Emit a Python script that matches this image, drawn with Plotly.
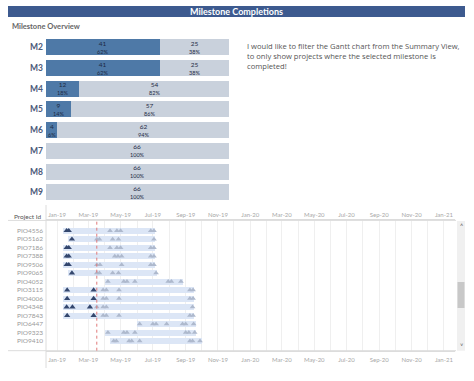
import plotly.graph_objects as go
import pandas as pd

# ---------------- data ----------------
milestones = ["M2", "M3", "M4", "M5", "M6", "M7", "M8", "M9"]
completed = [41, 41, 12, 9, 4, 0, 0, 0]
remaining = [25, 25, 54, 57, 62, 66, 66, 66]

projects = ["PIO4556", "PIO5162", "PIO7186", "PIO7388", "PIO9506", "PIO9065", "PIO4052",
            "PIO3115", "PIO4006", "PIO4348", "PIO7843", "PIO6447", "PIO9323", "PIO9410"]
starts = ["2019-01-12", "2019-01-22", "2019-01-12", "2019-01-12", "2019-01-12", "2019-01-22", "2019-04-01",
          "2019-01-12", "2019-01-12", "2019-01-12", "2019-01-12", "2019-06-01", "2019-04-02", "2019-04-11"]
ends = ["2019-07-05", "2019-07-05", "2019-07-05", "2019-07-05", "2019-07-05", "2019-07-09", "2019-08-26",
        "2019-09-17", "2019-09-17", "2019-09-16", "2019-09-17", "2019-09-20", "2019-09-20", "2019-10-01"]
done_dates = [
    ["2019-01-19", "2019-01-23"],
    ["2019-01-29"],
    ["2019-01-19", "2019-01-23"],
    ["2019-01-19", "2019-01-23"],
    ["2019-01-19", "2019-01-23"],
    ["2019-01-29"],
    [],
    ["2019-01-20", "2019-03-11"],
    ["2019-01-20", "2019-03-11"],
    ["2019-01-19", "2019-01-30", "2019-03-04"],
    ["2019-01-20", "2019-03-11"],
    [],
    [],
    [],
]
planned_dates = [
    ["2019-04-11", "2019-04-24", "2019-05-01", "2019-06-27", "2019-07-03"],
    ["2019-03-17", "2019-03-22", "2019-04-16", "2019-04-27", "2019-07-03"],
    ["2019-04-11", "2019-04-24", "2019-05-01", "2019-06-27", "2019-07-03"],
    ["2019-04-20", "2019-04-26", "2019-05-03", "2019-06-27", "2019-07-03"],
    ["2019-03-17", "2019-03-23", "2019-05-03", "2019-06-27", "2019-07-03"],
    ["2019-03-17", "2019-03-22", "2019-04-16", "2019-04-27", "2019-07-07"],
    ["2019-04-07", "2019-05-07", "2019-05-13", "2019-05-28", "2019-07-30", "2019-08-05", "2019-08-23"],
    ["2019-03-29", "2019-04-04", "2019-04-28", "2019-09-09", "2019-09-15"],
    ["2019-03-29", "2019-04-04", "2019-04-28", "2019-09-09", "2019-09-15"],
    ["2019-03-17", "2019-03-29", "2019-04-04", "2019-09-14"],
    ["2019-03-29", "2019-04-04", "2019-04-28", "2019-09-09", "2019-09-15"],
    ["2019-06-06", "2019-07-01", "2019-07-07", "2019-07-27", "2019-08-26", "2019-09-01", "2019-09-16"],
    ["2019-04-07", "2019-05-07", "2019-05-13", "2019-05-28", "2019-09-01", "2019-09-07", "2019-09-18"],
    ["2019-04-18", "2019-04-23", "2019-05-17", "2019-05-22", "2019-06-06", "2019-09-09", "2019-09-14", "2019-09-28"],
]
today_line = "2019-03-17"
gantt_range = ["2018-12-11", "2021-01-22"]

note_lines = ["I would like to filter the Gantt chart from the Summary View,",
              "to only show projects where the selected milestone is",
              "completed!"]

# ---------------- helpers ----------------
W, H = 474, 381
FONT = "Lato"


def px(x):
    return x / W


def py(y):
    return 1 - y / H


fig = go.Figure()

# ---- milestone overview bars ----
fig.add_trace(go.Bar(y=milestones, x=completed, orientation="h", marker_color="#4e79a7",
                     marker_line_width=0, xaxis="x", yaxis="y", hoverinfo="skip"))
fig.add_trace(go.Bar(y=milestones, x=remaining, orientation="h", marker_color="#c9d1dc",
                     marker_line_width=0, xaxis="x", yaxis="y", hoverinfo="skip"))

annotations = []
total = [c + r for c, r in zip(completed, remaining)]
for m, c, r, t in zip(milestones, completed, remaining, total):
    segs = []
    if c > 0:
        segs.append((c / 2, c, round(100 * c / t)))
    if r > 0:
        segs.append((c + r / 2, r, round(100 * r / t)))
    for xc, v, p in segs:
        annotations.append(dict(
            x=xc, y=m, xref="x", yref="y", showarrow=False, xanchor="center", yanchor="middle",
            text=f"{v}<br><span style='font-size:5.5px'>{p}%</span>",
            font=dict(size=6.5, color="#1d2a44", family=FONT)))

# ---- gantt ----
s = pd.to_datetime(pd.Series(starts))
e = pd.to_datetime(pd.Series(ends))
dur_ms = ((e - s).dt.total_seconds() * 1000).tolist()
fig.add_trace(go.Bar(y=projects, base=starts, x=dur_ms, orientation="h",
                     marker_color="#dce6f6", marker_line_width=0, width=0.72,
                     xaxis="x2", yaxis="y2", hoverinfo="skip"))

px_x, px_y = [], []
for p, ds in zip(projects, planned_dates):
    for d in ds:
        px_x.append(d)
        px_y.append(p)
fig.add_trace(go.Scatter(x=px_x, y=px_y, mode="markers", xaxis="x2", yaxis="y2",
                         marker=dict(symbol="triangle-up", size=5, color="#aeb9cd"),
                         hoverinfo="skip"))
dx, dy = [], []
for p, ds in zip(projects, done_dates):
    for d in ds:
        dx.append(d)
        dy.append(p)
fig.add_trace(go.Scatter(x=dx, y=dy, mode="markers", xaxis="x2", yaxis="y2",
                         marker=dict(symbol="triangle-up", size=5.5, color="#34476e"),
                         hoverinfo="skip"))
# invisible trace for bottom date axis
fig.add_trace(go.Scatter(x=gantt_range, y=[projects[0], projects[0]], mode="markers",
                         marker=dict(opacity=0), xaxis="x3", yaxis="y2", hoverinfo="skip"))

date_axis = dict(type="date", range=gantt_range, tickformat="%b-%y", dtick="M2",
                 tick0="2019-01-01", tickfont=dict(size=6, color="#a8a8a8", family=FONT),
                 ticks="", showline=True, linecolor="#dcdcdc", linewidth=1,
                 domain=[px(46), px(455)], fixedrange=True)

fig.update_layout(
    width=W, height=H, margin=dict(l=0, r=0, t=0, b=0),
    paper_bgcolor="white", plot_bgcolor="rgba(0,0,0,0)",
    barmode="stack", bargap=0.23, showlegend=False,
    font=dict(family=FONT),
    xaxis=dict(domain=[px(46), px(229)], range=[0, 66], visible=False, fixedrange=True),
    yaxis=dict(domain=[py(202.6), py(37)], categoryorder="array", categoryarray=milestones,
               autorange="reversed", showgrid=False, ticks="", anchor="x",
               tickfont=dict(size=8.5, color="#4b5a7a", family=FONT, weight="bold"),
               ticklabelstandoff=2, fixedrange=True),
    xaxis2=dict(date_axis, side="top", anchor="y2", showgrid=True, gridcolor="#efefef",
                minor=dict(dtick="M1", showgrid=True, gridcolor="#efefef")),
    xaxis3=dict(date_axis, side="bottom", anchor="y2", overlaying="x2", matches="x2",
                showgrid=False, ticklabelstandoff=3),
    yaxis2=dict(domain=[py(350.7), py(220.4)], categoryorder="array", categoryarray=projects,
                autorange="reversed", showgrid=False, ticks="", anchor="x2",
                tickfont=dict(size=6.5, color="#9a9a9a", family=FONT),
                ticklabelstandoff=2, fixedrange=True),
)

shapes = [
    # title bar
    dict(type="rect", xref="paper", yref="paper", x0=px(8), x1=px(465), y0=py(17), y1=py(6),
         fillcolor="#3d5a8f", line_width=0, layer="below"),
    # gantt separators
    dict(type="line", xref="paper", yref="paper", x0=px(8), x1=px(456), y0=py(220.4), y1=py(220.4),
         line=dict(color="#dcdcdc", width=1)),
    dict(type="line", xref="paper", yref="paper", x0=px(8), x1=px(456), y0=py(350.7), y1=py(350.7),
         line=dict(color="#dcdcdc", width=1)),
    dict(type="line", xref="paper", yref="paper", x0=px(46), x1=px(46), y0=py(368), y1=py(205),
         line=dict(color="#dcdcdc", width=1)),
    # today line
    dict(type="line", xref="x2", yref="y2 domain", x0=today_line, x1=today_line, y0=0, y1=1,
         line=dict(color="#e07a7a", width=1, dash="dot")),
    # scrollbar
    dict(type="rect", xref="paper", yref="paper", x0=px(457), x1=px(465), y0=py(350.7), y1=py(221),
         fillcolor="#f0f0f0", line_width=0),
    dict(type="rect", xref="paper", yref="paper", x0=px(457.5), x1=px(464.5), y0=py(308), y1=py(282),
         fillcolor="#c8c8c8", line_width=0),
]
fig.update_layout(shapes=shapes)

annotations += [
    dict(x=px(236), y=py(11.5), xref="paper", yref="paper", showarrow=False,
         xanchor="center", yanchor="middle",
         text="<b>Milestone Completions</b>", font=dict(size=9, color="white", family=FONT)),
    dict(x=px(10), y=py(27), xref="paper", yref="paper", showarrow=False,
         xanchor="left", yanchor="middle",
         text="<b>Milestone Overview</b>", font=dict(size=7.5, color="#666666", family=FONT)),
    dict(x=px(44), y=py(216), xref="paper", yref="paper", showarrow=False,
         xanchor="right", yanchor="middle",
         text="Project Id", font=dict(size=6.5, color="#555555", family=FONT)),
    dict(x=px(461), y=py(226), xref="paper", yref="paper", showarrow=False,
         xanchor="center", yanchor="middle",
         text="˄", font=dict(size=7, color="#555555", family=FONT)),
    dict(x=px(461), y=py(346), xref="paper", yref="paper", showarrow=False,
         xanchor="center", yanchor="middle",
         text="˅", font=dict(size=7, color="#555555", family=FONT)),
    dict(x=px(245), y=py(56), xref="paper", yref="paper", showarrow=False,
         xanchor="left", yanchor="middle", align="left", text="<br>".join(note_lines),
         font=dict(size=7.6, color="#555555", family="Open Sans")),
]
fig.update_layout(annotations=annotations)

fig.write_html("out.html", config={"displayModeBar": False, "staticPlot": True},
               post_script="document.body.style.margin='0';document.body.style.overflow='hidden';")
